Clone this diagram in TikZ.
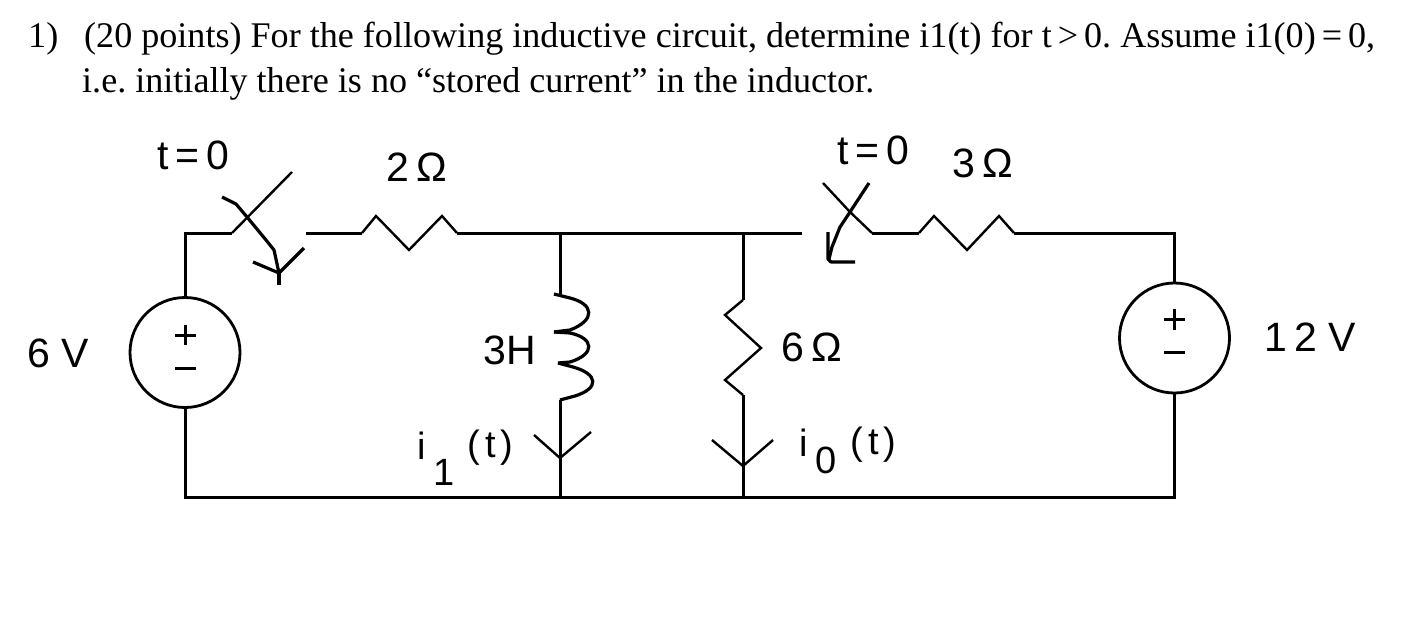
\documentclass[tikz,border=0pt]{standalone}
\usepackage{fontspec}
\setmainfont{Liberation Serif}
\newfontfamily\labelfont{Liberation Sans}
\begin{document}
\begin{tikzpicture}[x=1pt,y=-1pt,
  wire/.style={line width=3pt,line cap=butt,line join=miter},
  thin wire/.style={line width=2.4pt,line join=miter},
  thick arrow/.style={line width=3.2pt,line join=round},
  source/.style={circle,draw,line width=2.8pt,minimum size=110pt,inner sep=0pt},
  question/.style={anchor=base west,inner sep=0pt,font=\frenchspacing\fontsize{36.1pt}{40pt}\selectfont},
  elabel/.style={inner sep=0pt,font=\labelfont\fontsize{41pt}{44pt}\selectfont},
  smalllabel/.style={inner sep=0pt,font=\labelfont\fontsize{38pt}{44pt}\selectfont}]
\useasboundingbox (0,0) rectangle (1418,616);
% question text
\node[question] (qn) at (28,47) {1)};
\node[question] (qa) at (84,47) {(20 points) For the following inductive circuit, determine i1(t) for t\,>\,0. Assume i1(0)\,=\,0,};
\node[question] (qb) at (82,92) {i.e. initially there is no “stored current” in the inductor.};
% sources
\node[source] (vl) at (185,352.5) {};
\node[source] (vr) at (1174.5,338) {};
\coordinate (vlplus1) at (175,335); \coordinate (vlplus2) at (196,335);
\coordinate (vlplus3) at (185.5,325); \coordinate (vlplus4) at (185.5,345);
\coordinate (vlminus1) at (175,368); \coordinate (vlminus2) at (196,368);
\coordinate (vrplus1) at (1164,319); \coordinate (vrplus2) at (1185,319);
\coordinate (vrplus3) at (1174.5,309); \coordinate (vrplus4) at (1174.5,330);
\coordinate (vrminus1) at (1164,352); \coordinate (vrminus2) at (1185,352);
\draw[wire] (vlplus1)--(vlplus2) (vlplus3)--(vlplus4) (vlminus1)--(vlminus2);
\draw[wire] (vrplus1)--(vrplus2) (vrplus3)--(vrplus4) (vrminus1)--(vrminus2);
% nodes of the circuit
\coordinate (tl) at (185,233);
\coordinate (tr) at (1174.5,233);
\coordinate (bl) at (185,497);
\coordinate (br) at (1174.5,497);
\coordinate (sw1a) at (232,233);
\coordinate (sw1b) at (306,233);
\coordinate (r2a) at (362,233);
\coordinate (r2b) at (457,233);
\coordinate (jl) at (560,233);
\coordinate (jr) at (743,233);
\coordinate (sw2a) at (802,233);
\coordinate (sw2b) at (872,233);
\coordinate (r3a) at (919,233);
\coordinate (r3b) at (1014,233);
\coordinate (la) at (560,294);
\coordinate (lb) at (560,400);
\coordinate (ra) at (743,300);
\coordinate (rb) at (743,395);
\coordinate (jbl) at (560,497);
\coordinate (jbr) at (743,497);
% wires
\draw[wire] (vl.north) -- (tl) -- (sw1a);
\draw[wire] (sw1b) -- (r2a);
\draw[wire] (r2b) -- (jl) -- (jr) -- (sw2a);
\draw[wire] (sw2b) -- (r3a);
\draw[wire] (r3b) -- (tr) -- (vr.north);
\draw[wire] (vl.south) -- (bl) -- (br) -- (vr.south);
\draw[wire] (jl) -- (la);
\draw[wire] (lb) -- (jbl);
\draw[wire] (jr) -- (ra);
\draw[wire] (rb) -- (jbr);
% resistors
\draw[thin wire] (r2a) -- (376,216) -- (409,250) -- (442,216) -- (r2b);
\draw[thin wire] (r3a) -- (934,216) -- (967,250) -- (999,216) -- (r3b);
\draw[thin wire] (ra) -- (725,315) -- (761,348) -- (725,380) -- (rb);
% inductor
\draw[thick arrow] (554,294) -- (570,298) .. controls (594,304) and (596,320) .. (570,330) -- (554,332);
\draw[thick arrow] (554,332) -- (570,333) .. controls (594,338) and (596,354) .. (570,362) -- (558,363);
\draw[thick arrow] (558,363) -- (573,367) .. controls (598,374) and (600,388) .. (575,396) -- (lb);
% switch 1
\coordinate (sw1tip) at (292,172);
\coordinate (sw1arc) at (222,197);
\coordinate (sw1head) at (279,273);
\draw[thin wire] (sw1a) -- (sw1tip);
\draw[thick arrow] (sw1arc) -- (236,204) -- (247,217) -- (266,240) -- (274,250) -- (sw1head);
\draw[thick arrow] (253,262) -- (sw1head) -- (304,248);
\draw[thick arrow] (sw1head) -- (279,285);
% switch 2
\coordinate (sw2c) at (850,212);
\draw[thin wire] (823,183) -- (sw2c) -- (sw2b);
\draw[thick arrow] (869,183) -- (sw2c) -- (840,227) -- (832,247) -- (829,259);
\draw[thick arrow] (828,232) -- (828,259) -- (831,262) -- (855,262);
% current arrows
\coordinate (a1) at (560,458);
\coordinate (a0) at (743,466);
\draw[thin wire] (534,435) -- (a1) -- (591,432);
\draw[thin wire] (712,440) -- (a0) -- (773,440);
% labels
\node[elabel] (t1) at (193,155) {t\,=\,0};
\node[elabel] (t2) at (873,150) {t\,=\,0};
\node[elabel] (l2) at (417,167) {2\,Ω};
\node[elabel] (l3) at (983,163) {3\,Ω};
\node[elabel] (l3h) at (510,350) {3H};
\node[elabel] (l6) at (812,347) {6\,Ω};
\node[elabel] (l6v) at (58,353) {6 V};
\node[elabel] (l12v) at (1310,337) {1\,2 V};
\node[smalllabel,anchor=base west] (li1) at (417,459) {i\kern8pt\raisebox{-26pt}{1}\kern13pt\raisebox{2pt}{(\kern5pt t\kern5pt)}};
\node[smalllabel,anchor=base west] (li0) at (799,456) {i\kern8pt\raisebox{-17pt}{0}\kern14pt\raisebox{2pt}{(\kern5pt t\kern5pt)}};
\end{tikzpicture}
\end{document}
